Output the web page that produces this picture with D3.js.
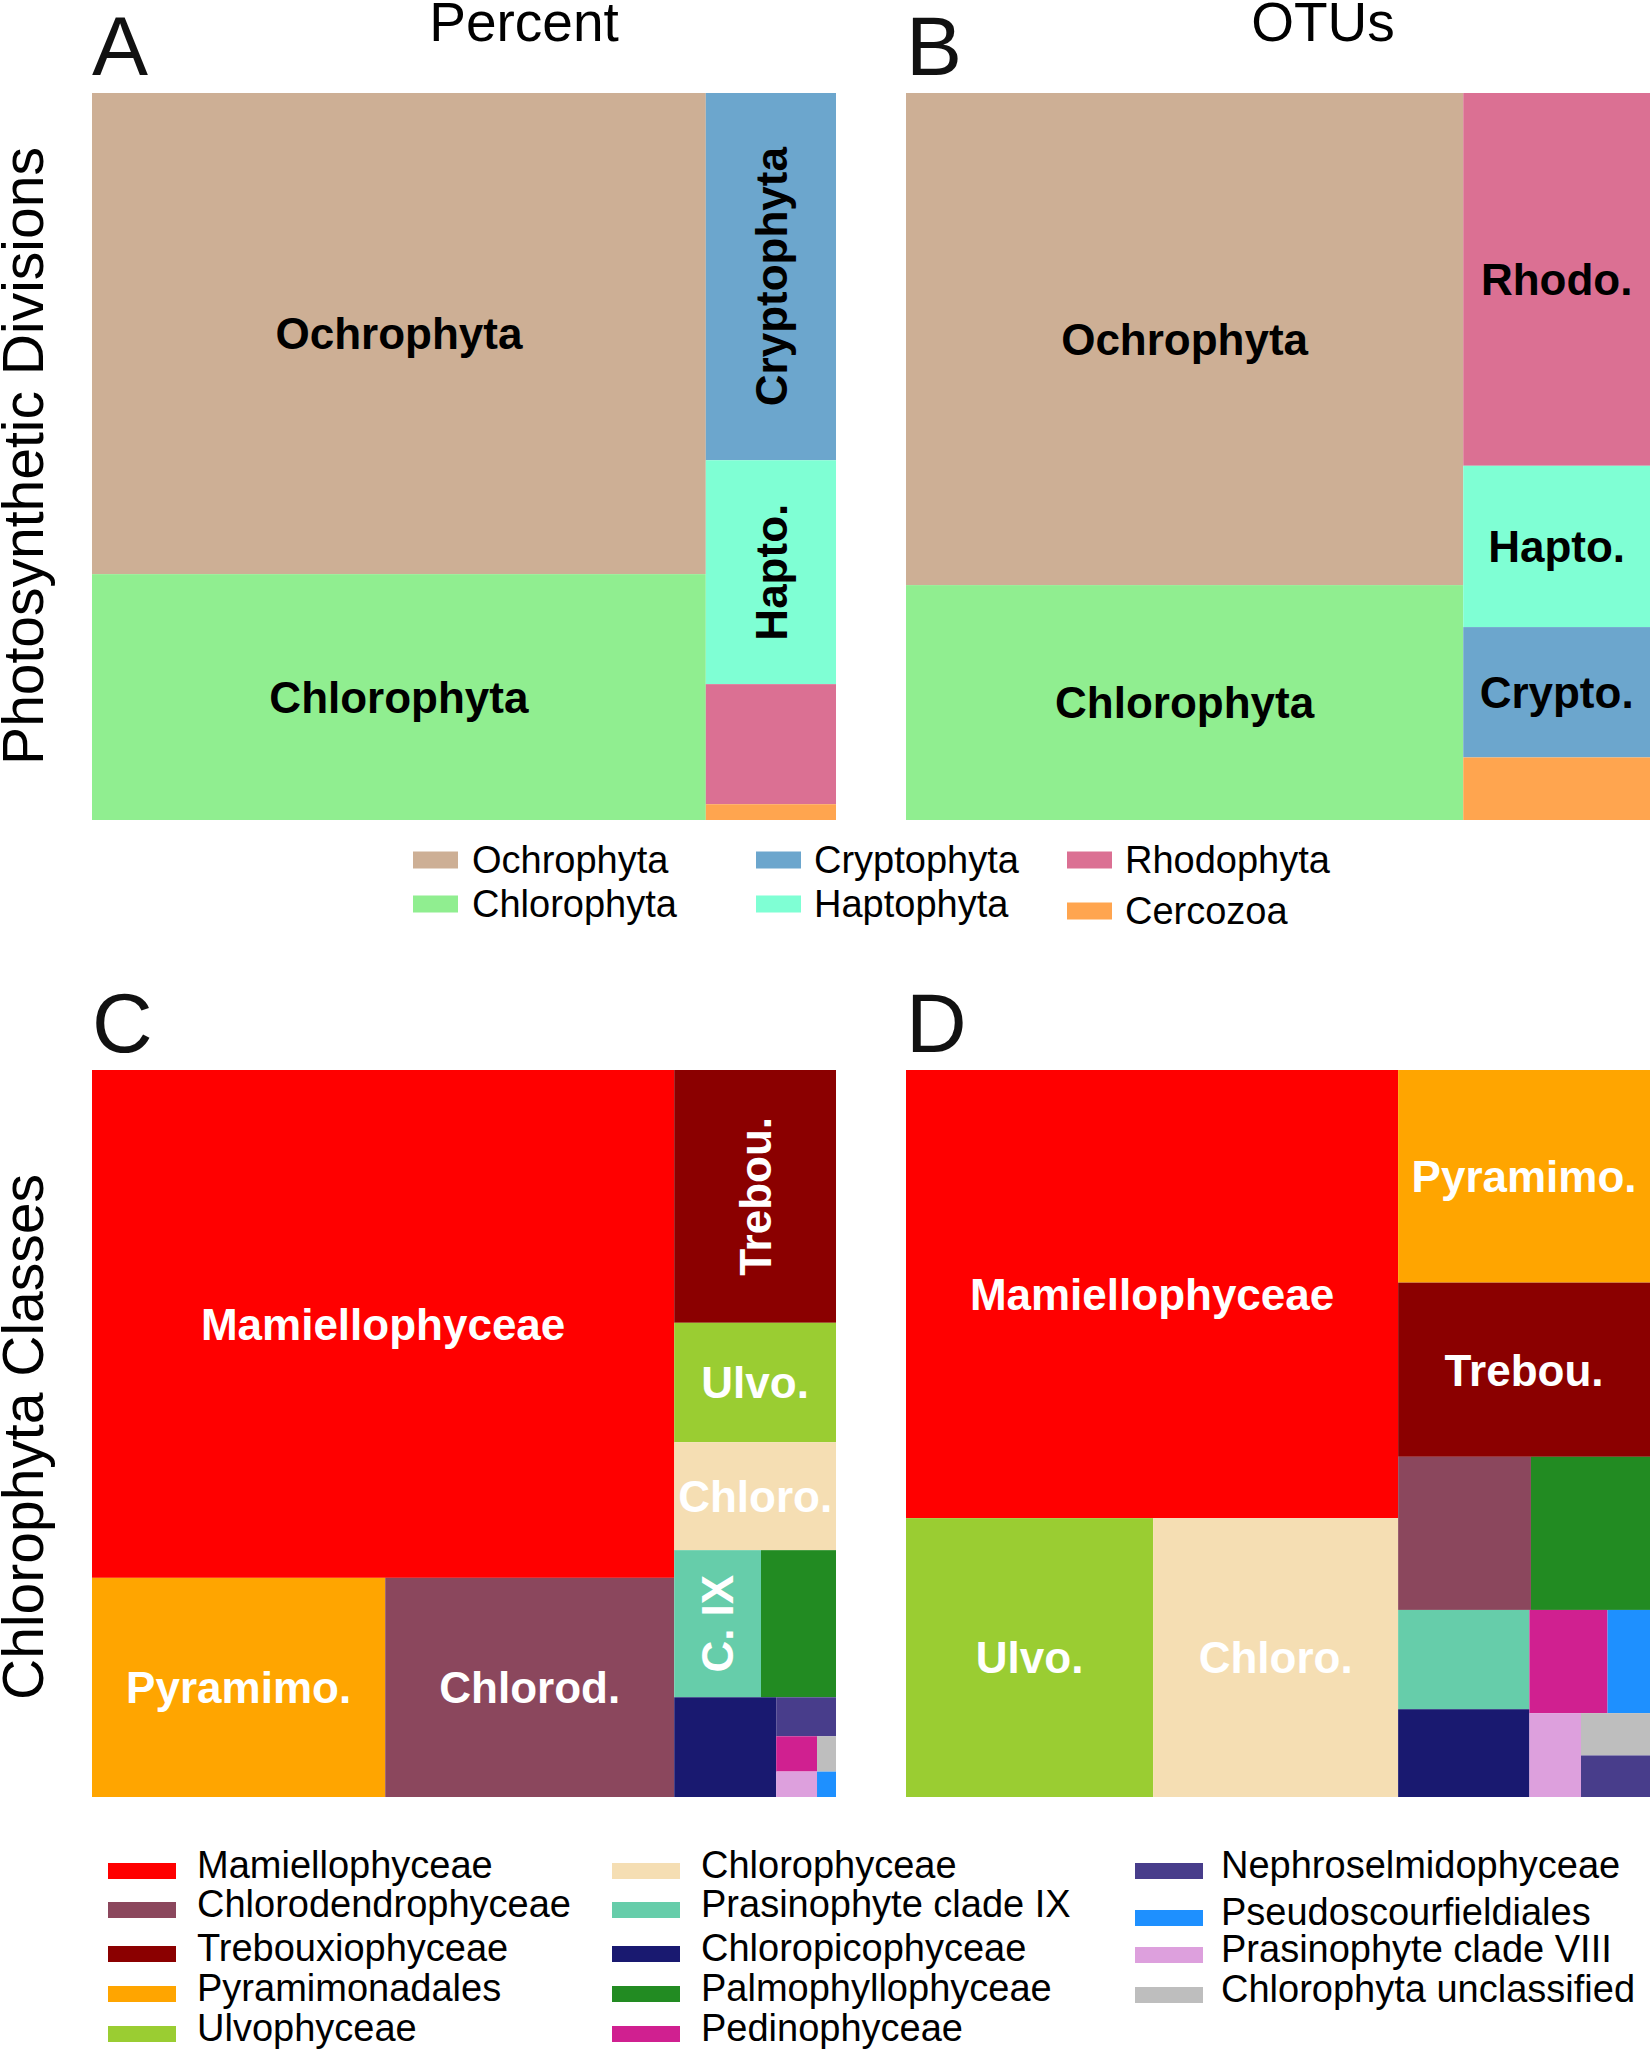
<!DOCTYPE html>
<html lang="en">
<head>
  <meta charset="UTF-8">
  <title>Photosynthetic divisions and Chlorophyta classes</title>
  <script src="https://d3js.org/d3.v7.min.js"></script>
  <style>
    body, html { margin: 0; padding: 0; background: #fff; }
    svg { display: block; font-family: "Liberation Sans", Arial, Helvetica, sans-serif; }
  </style>
</head>
<body>
  <svg id="chart" width="1650" height="2051"></svg>

  <script>
    // --- Photosynthetic divisions (panels A and B) ---
    const divNames  = ['Ochrophyta', 'Chlorophyta', 'Cryptophyta', 'Haptophyta', 'Rhodophyta', 'Cercozoa'];
    const divColors = ['#CDAF95', '#90EE90', '#6CA6CD', '#7FFFD4', '#DB7093', '#FFA54F'];
    const divPercent = [54.6, 27.9, 8.84, 5.39, 2.89, 0.38];
    const divOTUs    = [50.7, 24.2, 4.50, 5.57, 12.87, 2.16];
    const divLabelsPercent = ['Ochrophyta', 'Chlorophyta', 'Cryptophyta', 'Hapto.', '', ''];
    const divLabelsOTUs    = ['Ochrophyta', 'Chlorophyta', 'Crypto.', 'Hapto.', 'Rhodo.', ''];

    // --- Chlorophyta classes (panels C and D) ---
    const clsNames = ['Mamiellophyceae', 'Chlorodendrophyceae', 'Trebouxiophyceae', 'Pyramimonadales',
      'Ulvophyceae', 'Chlorophyceae', 'Prasinophyte clade IX', 'Chloropicophyceae', 'Palmophyllophyceae',
      'Pedinophyceae', 'Nephroselmidophyceae', 'Pseudoscourfieldiales', 'Prasinophyte clade VIII',
      'Chlorophyta unclassified'];
    const clsColors = ['#FF0000', '#8B475D', '#8B0000', '#FFA500', '#9ACD32', '#F5DEB3', '#66CDAA',
      '#191970', '#228B22', '#D02090', '#483D8B', '#1E90FF', '#DDA0DD', '#BEBEBE'];
    const clsPercent = [54.66, 11.71, 7.56, 11.88, 3.57, 3.23, 2.36, 1.88, 2.04, 0.266, 0.431, 0.089, 0.192, 0.124];
    const clsOTUs    = [40.77, 3.76, 8.11, 9.90, 12.74, 12.63, 2.41, 2.13, 3.37, 1.49, 0.53, 0.81, 0.80, 0.54];
    const clsLabelsPercent = ['Mamiellophyceae', 'Chlorod.', 'Trebou.', 'Pyramimo.', 'Ulvo.', 'Chloro.', 'C. IX',
      '', '', '', '', '', '', ''];
    const clsLabelsOTUs    = ['Mamiellophyceae', '', 'Trebou.', 'Pyramimo.', 'Ulvo.', 'Chloro.', '',
      '', '', '', '', '', '', ''];

    // Treemap nesting (indices into the arrays above); tiled with slice/dice by depth
    const nestA = [[0, 1], [2, 3, 4, 5]];
    const nestB = [[0, 1], [4, 3, 2, 5]];
    const nestC = [[0, [3, 1]], [2, 4, 5, [6, 8], [7, [10, [[9, 12], [13, 11]]]]]];
    const nestD = [[0, [4, 5]], [3, 2, [1, 8], [[6, 7], [[9, 11], [12, [13, 10]]]]]];

    const svg = d3.select('#chart');
    const FONT_LABEL = 44;

    function nestToTree(nest, values) {
      if (Array.isArray(nest)) return { children: nest.map(n => nestToTree(n, values)) };
      return { idx: nest, value: values[nest] };
    }

    function drawPanel(p) {
      const root = d3.hierarchy(nestToTree(p.nest, p.values)).sum(d => d.value);
      d3.treemap().tile(d3.treemapSliceDice).size([p.w, p.h])(root);

      const g = svg.append('g').attr('transform', `translate(${p.x},${p.y})`);

      const cell = g.selectAll('g.cell')
        .data(root.leaves())
        .join('g')
        .attr('class', 'cell');

      cell.append('rect')
        .attr('x', d => d.x0)
        .attr('y', d => d.y0)
        .attr('width', d => d.x1 - d.x0)
        .attr('height', d => d.y1 - d.y0)
        .attr('fill', d => p.colors[d.data.idx]);

      cell.filter(d => p.labels[d.data.idx])
        .append('text')
        .attr('text-anchor', 'middle')
        .attr('dy', '0.36em')
        .attr('font-weight', 'bold')
        .attr('font-size', FONT_LABEL)
        .attr('fill', p.labelColor)
        .text(d => p.labels[d.data.idx])
        .each(function (d) {
          const cx = (d.x0 + d.x1) / 2, cy = (d.y0 + d.y1) / 2;
          const len = this.getComputedTextLength();
          // turn the label when it does not fit across the cell
          const rot = len > (d.x1 - d.x0) - 4 ? -90 : 0;
          d3.select(this).attr('transform', `translate(${cx},${cy}) rotate(${rot})`);
        });

      // panel letter and title
      svg.append('text')
        .attr('x', p.x).attr('y', p.y - 18)
        .attr('font-size', 84).attr('fill', '#111')
        .text(p.letter);
      if (p.title) {
        svg.append('text')
          .attr('x', p.titleX).attr('y', 41)
          .attr('text-anchor', 'middle')
          .attr('font-size', 55)
          .text(p.title);
      }
    }

    const PW = 744, PH = 727;
    drawPanel({ letter: 'A', title: 'Percent', titleX: 524, x: 92, y: 93, w: PW, h: PH, nest: nestA,
      values: divPercent, colors: divColors, labels: divLabelsPercent, labelColor: '#000' });
    drawPanel({ letter: 'B', title: 'OTUs', titleX: 1323, x: 906, y: 93, w: PW, h: PH, nest: nestB,
      values: divOTUs, colors: divColors, labels: divLabelsOTUs, labelColor: '#000' });
    drawPanel({ letter: 'C', x: 92, y: 1070, w: PW, h: PH, nest: nestC,
      values: clsPercent, colors: clsColors, labels: clsLabelsPercent, labelColor: '#fff' });
    drawPanel({ letter: 'D', x: 906, y: 1070, w: PW, h: PH, nest: nestD,
      values: clsOTUs, colors: clsColors, labels: clsLabelsOTUs, labelColor: '#fff' });

    // row titles
    [['Photosynthetic Divisions', 456], ['Chlorophyta Classes', 1437]].forEach(([t, cy]) => {
      svg.append('text')
        .attr('transform', `translate(43,${cy}) rotate(-90)`)
        .attr('text-anchor', 'middle')
        .attr('font-size', 57)
        .text(t);
    });

    // legends
    function drawLegend(names, colors, cfg) {
      const g = svg.append('g');
      names.forEach((name, i) => {
        const col = Math.floor(i / cfg.perCol), row = i % cfg.perCol;
        const cy = cfg.rowY[col][row];
        g.append('rect')
          .attr('x', cfg.colX[col]).attr('y', cy - cfg.sh / 2)
          .attr('width', cfg.sw).attr('height', cfg.sh)
          .attr('fill', colors[i]);
        g.append('text')
          .attr('x', cfg.colX[col] + cfg.textDx[col]).attr('y', cy + cfg.baseDy)
          .attr('font-size', 38)
          .text(name);
      });
    }

    drawLegend(divNames, divColors, {
      perCol: 2, colX: [413, 756, 1067], textDx: [59, 58, 58], sw: 45, sh: 17, baseDy: 13,
      rowY: [[860, 904], [860, 904], [860, 911]]
    });
    drawLegend(clsNames, clsColors, {
      perCol: 5, colX: [108, 612, 1135], textDx: [89, 89, 86], sw: 68, sh: 16, baseDy: 7,
      rowY: [[1871, 1910, 1954, 1994, 2034], [1871, 1910, 1954, 1994, 2034], [1871, 1918, 1955, 1995]]
    });
  </script>
</body>
</html>
